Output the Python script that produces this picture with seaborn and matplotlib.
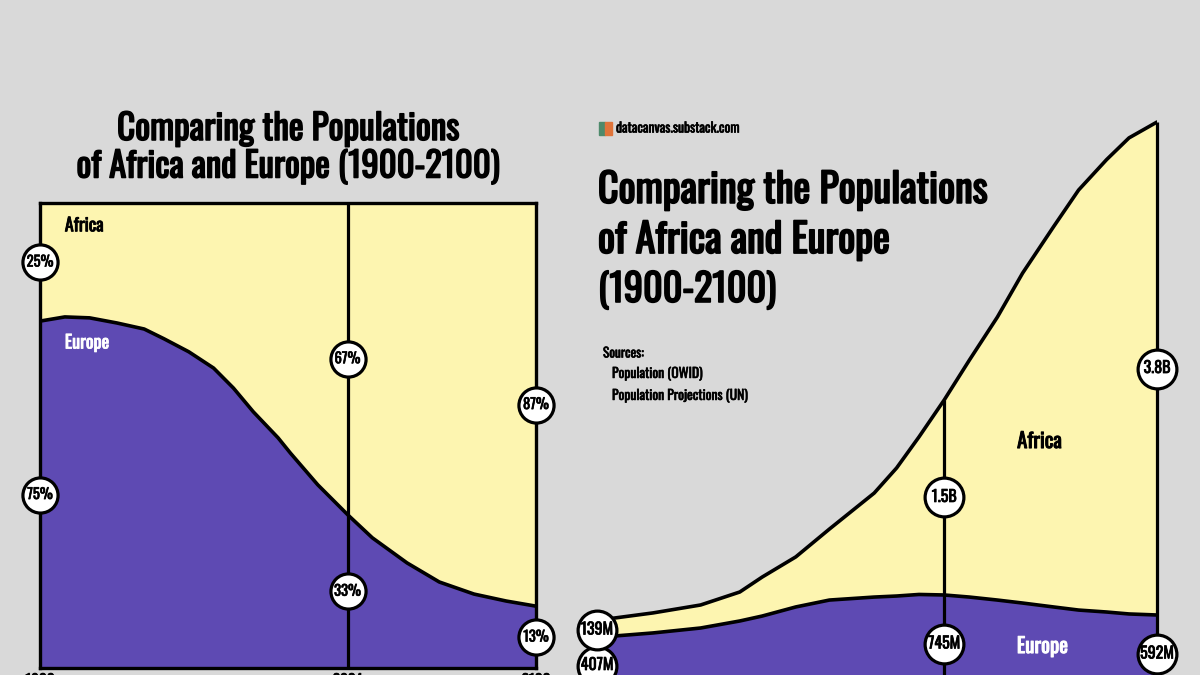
import matplotlib
matplotlib.use('Agg')
import matplotlib.pyplot as plt
from matplotlib.patches import Rectangle
from matplotlib.text import Text
import matplotlib.patheffects as pe
import numpy as np
import pandas as pd
import seaborn as sb
import logging

logging.getLogger('matplotlib.font_manager').setLevel(logging.ERROR)

# left chart, share of the two continents
share_years = [1900, 1910, 1920, 1931, 1942, 1950, 1960, 1970, 1978, 1986, 1996, 2001, 2012, 2024,
               2034, 2048, 2061, 2075, 2088, 2100]
europe_share = [74.6, 75.5, 75.3, 74.2, 72.9, 70.8, 68.0, 64.5, 60.2, 55.1, 49.5, 46.2, 39.4, 33,
                28.0, 22.6, 18.5, 15.9, 14.4, 13.3]
share_marks = [1900, 2024, 2100]
share_ticks = ['1900', '2024', '2100']
africa_share_labels = ['25%', '67%', '87%']
europe_share_labels = ['75%', '33%', '13%']

# right chart, absolute population in millions
pop_years = [1900, 1906, 1920, 1937, 1951, 1959, 1971, 1983, 1999, 2007, 2015, 2024, 2033, 2043, 2052,
             2063, 2072, 2082, 2090, 2100]
europe_pop = [423, 438, 462, 500, 554, 592, 662, 715, 738, 746, 758, 754, 738, 715, 692,
              662, 638, 623, 608, 600]
africa_pop = [123, 138, 154, 177, 223, 300, 385, 546, 800, 985, 1212, 1500, 1823, 2177, 2538,
              2923, 3231, 3480, 3662, 3792]
pop_marks = [1900, 2024, 2100]
africa_pop_labels = ['139M', '1.5B', '3.8B']
europe_pop_labels = ['407M', '745M', '592M']

BG = '#D9D9D9'
YELLOW = '#FDF5B0'
PURPLE = '#5E4AB3'
FONT = ['Oswald', 'Barlow Condensed', 'Roboto', 'DejaVu Sans']

sb.set_theme(style='white')
plt.rcParams['font.family'] = FONT

fig = plt.figure(figsize=(12, 6.75), dpi=100, facecolor=BG)
W, H = 1200, 675


def px_axes(left, top, right, bottom):
    return fig.add_axes([left / W, 1 - bottom / H, (right - left) / W, (bottom - top) / H])


def bubble(ax, x, y, label, size=640, fs=10.5):
    ax.scatter([x], [y], s=size, color='white', edgecolor='black', linewidth=2.3,
               zorder=6, clip_on=False)
    ax.text(x, y, label, ha='center', va='center', fontsize=fs, color='black',
            zorder=7, clip_on=False)


# ---- left chart
ax1 = px_axes(40, 203, 536, 668)
share = pd.DataFrame({'year': share_years, 'europe': europe_share})
ax1.fill_between(share['year'], 0, share['europe'], color=PURPLE, lw=0)
ax1.fill_between(share['year'], share['europe'], 100, color=YELLOW, lw=0)
sb.lineplot(data=share, x='year', y='europe', color='black', linewidth=2.6, ax=ax1, zorder=3)
ax1.set_xlim(1900, 2100)
ax1.set_ylim(0, 100)
ax1.set_xlabel('')
ax1.set_ylabel('')
ax1.set_yticks([])
ax1.set_xticks(share_marks)
ax1.set_xticklabels(share_ticks, fontsize=11, color='black')
ax1.tick_params(axis='x', length=0, pad=4)
for s in ax1.spines.values():
    s.set_visible(True)
    s.set_color('black')
    s.set_linewidth(2.4)
ax1.vlines(share_marks[1], 0, 100, color='black', linewidth=2.3, zorder=4)
for yr, a_lab, e_lab in zip(share_marks, africa_share_labels, europe_share_labels):
    e = np.interp(yr, share_years, europe_share)
    bubble(ax1, yr, (e + 100) / 2, a_lab)
    bubble(ax1, yr, e / 2, e_lab)
ax1.text(1910, 95.2, 'Africa', fontsize=13, color='black', ha='left', va='center')
ax1.text(1910, 70, 'Europe', fontsize=13, color='white', ha='left', va='center')

# ---- right chart, baseline sits below the bottom of the image
ax2 = px_axes(597, 108, 1157, 693)
ax2.patch.set_alpha(0)
pop = pd.DataFrame({'year': pop_years, 'europe': europe_pop, 'africa': africa_pop})
pop['total'] = pop['europe'] + pop['africa']
ax2.fill_between(pop['year'], 0, pop['europe'], color=PURPLE, lw=0)
ax2.fill_between(pop['year'], pop['europe'], pop['total'], color=YELLOW, lw=0)
sb.lineplot(data=pop, x='year', y='europe', color='black', linewidth=2.6, ax=ax2, zorder=3)
sb.lineplot(data=pop, x='year', y='total', color='black', linewidth=2.6, ax=ax2, zorder=3)
ax2.set_xlim(1900, 2100)
ax2.set_ylim(0, 4500)
ax2.axis('off')
for yr, a_lab, e_lab in zip(pop_marks, africa_pop_labels, europe_pop_labels):
    e = np.interp(yr, pop_years, europe_pop)
    t = e + np.interp(yr, pop_years, africa_pop)
    if yr != pop_marks[0]:
        ax2.vlines(yr, 0, t, color='black', linewidth=2.3, zorder=4, clip_on=False)
    bubble(ax2, yr, e / 2, e_lab, size=780, fs=11.5)
    bubble(ax2, yr, (e + t) / 2, a_lab, size=780, fs=11.5)
ax2.text(2058, 1938, 'Africa', fontsize=15, color='black', ha='center', va='center')
ax2.text(2059, 361, 'Europe', fontsize=15, color='white', ha='center', va='center')

# ---- titles and notes
fig.text(288 / W, 1 - 129 / H, 'Comparing the Populations', fontsize=25.3, ha='center', va='center', color='black')
fig.text(288 / W, 1 - 167 / H, 'of Africa and Europe (1900-2100)', fontsize=25, ha='center', va='center', color='black')
fig.text(598 / W, 1 - 190 / H, 'Comparing the Populations', fontsize=28.8, ha='left', va='center', color='black')
fig.text(598 / W, 1 - 240 / H, 'of Africa and Europe', fontsize=28.8, ha='left', va='center', color='black')
fig.text(598 / W, 1 - 290 / H, '(1900-2100)', fontsize=27.5, ha='left', va='center', color='black')
fig.text(603 / W, 1 - 353 / H, 'Sources:', fontsize=9.6, ha='left', va='center', color='black')
fig.text(612 / W, 1 - 374 / H, 'Population (OWID)', fontsize=9.8, ha='left', va='center', color='black')
fig.text(612 / W, 1 - 396 / H, 'Population Projections (UN)', fontsize=9.8, ha='left', va='center', color='black')
fig.text(616 / W, 1 - 128 / H, 'datacanvas.substack.com', fontsize=9.8, ha='left', va='center', color='black')

# little logo
fig.patches.append(Rectangle((599 / W, 1 - 135 / H), 6 / W, 13 / H, transform=fig.transFigure, color='#4E8A6B', figure=fig))
fig.patches.append(Rectangle((605 / W, 1 - 135 / H), 7 / W, 13 / H, transform=fig.transFigure, color='#E0743A', figure=fig))

# the font only comes in regular here, thicken it to look bold
for t in fig.findobj(Text):
    t.set_path_effects([pe.withStroke(linewidth=t.get_fontsize() * 0.045, foreground=t.get_color())])

fig.savefig('out.png', dpi=100, facecolor=BG)
